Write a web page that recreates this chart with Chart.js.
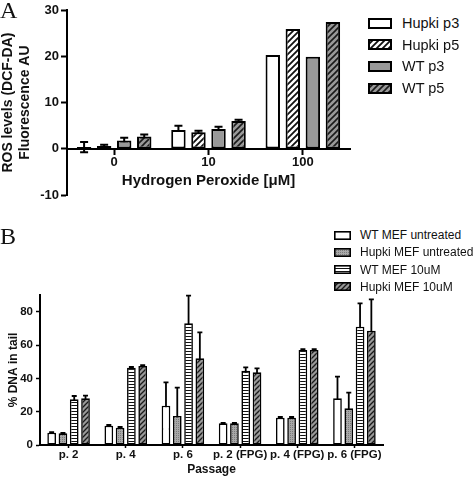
<!DOCTYPE html>
<html><head><meta charset="utf-8">
<script src="https://cdn.jsdelivr.net/npm/chart.js@4.4.1/dist/chart.umd.min.js"></script>
<style>
html,body{margin:0;padding:0;background:#fff;width:474px;height:481px;overflow:hidden;}
#wrap{position:relative;width:474px;height:481px;overflow:hidden;}
.panel{position:absolute;font-family:"Liberation Serif","Times New Roman",serif;font-size:24px;line-height:1;color:#111;}
#cA{position:absolute;left:0;top:0;}
#cB{position:absolute;left:0;top:285px;}
.legend{position:absolute;left:0;top:0;font-family:"Liberation Sans",Arial,sans-serif;color:#111;}
.legend .row{position:absolute;display:flex;align-items:center;white-space:nowrap;height:16px;}
.legend canvas{display:block;}
</style></head>
<body><div id="wrap">
<canvas id="cA" width="352" height="205"></canvas>
<canvas id="cB" width="385" height="196"></canvas>
<div class="panel" style="left:0;top:-2px">A</div>
<div class="panel" style="left:0;top:224px">B</div>
<div id="legA" class="legend"></div>
<div id="legB" class="legend"></div>
</div>
<script>
// ---------- Panel A data ----------
const doseLabels = ['0', '10', '100'];
const seriesNamesA = ['Hupki p3', 'Hupki p5', 'WT p3', 'WT p5'];
const hupkiP3 = [0.4, 4.1, 20.3];
const hupkiP3Err = [1.1, 0.9, 0];
const hupkiP5 = [0.6, 3.6, 25.9];
const hupkiP5Err = [0.3, 0.3, 0];
const wtP3 = [1.8, 4.3, 19.9];
const wtP3Err = [0.6, 0.5, 0];
const wtP5 = [2.7, 6.0, 27.4];
const wtP5Err = [0.4, 0.3, 0];
const yTicksA = [-10, 0, 10, 20, 30];

// ---------- Panel B data ----------
const passageLabels = ['p. 2', 'p. 4', 'p. 6', 'p. 2 (FPG)', 'p. 4 (FPG)', 'p. 6 (FPG)'];
const seriesNamesB = ['WT MEF untreated', 'Hupki MEF untreated', 'WT MEF 10uM', 'Hupki MEF 10uM'];
const wtUntreated = [7.4, 11.6, 23.6, 13.0, 16.4, 28.0];
const wtUntreatedErr = [0.3, 0.4, 14.0, 0.3, 0.4, 13.0];
const hupkiUntreated = [7.0, 10.4, 17.4, 13.0, 16.4, 22.0];
const hupkiUntreatedErr = [0.3, 0.4, 17.0, 0.3, 0.4, 9.4];
const wt10uM = [27.4, 46.4, 73.0, 44.6, 57.0, 71.0];
const wt10uMErr = [2.0, 0.5, 16.6, 2.0, 0.5, 14.0];
const hupki10uM = [28.0, 47.4, 52.0, 43.6, 57.0, 68.6];
const hupki10uMErr = [1.6, 0.5, 15.6, 2.4, 0.5, 18.8];
const yTicksB = [0, 20, 40, 60, 80];

// ---------- fills ----------
function tile(size, bg, draw) {
  const c = document.createElement('canvas'); c.width = c.height = size;
  const x = c.getContext('2d'); x.fillStyle = bg; x.fillRect(0, 0, size, size);
  if (draw) draw(x, size);
  return c;
}
function diagTile(bg, fg, s, lw) {
  return tile(s, bg, (x) => {
    x.strokeStyle = fg; x.lineWidth = lw; x.beginPath();
    x.moveTo(-1, s + 1); x.lineTo(s + 1, -1);
    x.moveTo(-s / 2 - 1, s / 2 + 1); x.lineTo(s / 2 + 1, -s / 2 - 1);
    x.moveTo(s / 2 - 1, s * 1.5 + 1); x.lineTo(s * 1.5 + 1, s / 2 - 1);
    x.stroke();
  });
}
const tiles = {
  white: tile(4, '#ffffff'),
  gray: tile(4, '#999999'),
  hatchWhite: diagTile('#ffffff', '#111', 6, 1.8),
  hatchGray: diagTile('#999999', '#1a1a1a', 6, 1.6),
  hatchGrayB: diagTile('#999999', '#1a1a1a', 5, 1.3),
  stipple: tile(2, '#a8a8a8', (x) => { x.fillStyle = '#7a7a7a'; x.fillRect(0, 0, 1, 1); }),
  hstripe: tile(3, '#ffffff', (x) => { x.fillStyle = '#111'; x.fillRect(0, 0, 3, 1); })
};
function pat(ctx, name) { return ctx.createPattern(tiles[name], 'repeat'); }

// ---------- error bars (drawn under bars, so only the part outside a bar shows) ----------
const errorBars = {
  id: 'errorBars',
  beforeDatasetsDraw(chart, args, opts) {
    const ctx = chart.ctx, y = chart.scales.y;
    chart.data.datasets.forEach((ds, di) => {
      const meta = chart.getDatasetMeta(di);
      meta.data.forEach((bar, i) => {
        const e = ds.errors ? ds.errors[i] : 0;
        if (!e) return;
        const v = ds.data[i];
        const t = y.getPixelForValue(v + e), b = y.getPixelForValue(v - e);
        const h = opts.cap / 2;
        ctx.save();
        ctx.strokeStyle = '#000'; ctx.lineWidth = opts.lineWidth;
        ctx.beginPath();
        ctx.moveTo(bar.x, t); ctx.lineTo(bar.x, b);
        ctx.moveTo(bar.x - h, t); ctx.lineTo(bar.x + h, t);
        ctx.moveTo(bar.x - h, b); ctx.lineTo(bar.x + h, b);
        ctx.stroke();
        ctx.restore();
      });
    });
  }
};

const TXT = '#111';
const SANS = '"Liberation Sans", Arial, sans-serif';

// ---------- Chart A ----------
const ctxA = document.getElementById('cA').getContext('2d');
const valsA = [hupkiP3, hupkiP5, wtP3, wtP5];
const errsA = [hupkiP3Err, hupkiP5Err, wtP3Err, wtP5Err];
const fillNamesA = ['white', 'hatchWhite', 'gray', 'hatchGray'];
new Chart(ctxA, {
  type: 'bar',
  data: {
    labels: doseLabels,
    datasets: seriesNamesA.map((name, k) => ({
      label: name, data: valsA[k], errors: errsA[k],
      backgroundColor: pat(ctxA, fillNamesA[k]), borderColor: '#000', borderWidth: 2,
      borderSkipped: false, categoryPercentage: 0.85, barPercentage: 0.72
    }))
  },
  options: {
    responsive: false, animation: false,
    layout: { padding: { top: 10, bottom: 8, left: 0, right: 2 } },
    plugins: { legend: { display: false }, tooltip: { enabled: false }, errorBars: { lineWidth: 2, cap: 8 } },
    scales: {
      x: {
        position: { y: 0 }, offset: true,
        grid: { offset: false, drawOnChartArea: false, drawTicks: true, tickLength: 5, tickWidth: 2, tickColor: '#000' },
        border: { color: '#000', width: 2 },
        ticks: { color: TXT, font: { family: SANS, size: 13, weight: 'bold' }, padding: 1, maxRotation: 0 },
        title: { display: true, text: 'Hydrogen Peroxide [μM]', color: TXT, font: { family: SANS, size: 15, weight: 'bold' }, padding: { top: 0, bottom: 0 } }
      },
      y: {
        min: -10, max: 30,
        afterBuildTicks: (s) => { s.ticks = yTicksA.map(v => ({ value: v })); },
        afterFit: (s) => { s.width = 67; },
        grid: { drawOnChartArea: false, drawTicks: true, tickLength: 6, tickWidth: 2, tickColor: '#000' },
        border: { color: '#000', width: 2 },
        ticks: { color: TXT, font: { family: SANS, size: 13, weight: 'bold' }, padding: 2 },
        title: { display: true, text: ['ROS levels (DCF-DA)', 'Fluorescence AU'], color: TXT, font: { family: SANS, size: 14, weight: 'bold', lineHeight: '17px' }, padding: { top: 0, bottom: 0 } }
      }
    }
  },
  plugins: [errorBars]
});

// ---------- Chart B ----------
const ctxB = document.getElementById('cB').getContext('2d');
const valsB = [wtUntreated, hupkiUntreated, wt10uM, hupki10uM];
const errsB = [wtUntreatedErr, hupkiUntreatedErr, wt10uMErr, hupki10uMErr];
const fillNamesB = ['white', 'stipple', 'hstripe', 'hatchGrayB'];
new Chart(ctxB, {
  type: 'bar',
  data: {
    labels: passageLabels,
    datasets: seriesNamesB.map((name, k) => ({
      label: name, data: valsB[k], errors: errsB[k],
      backgroundColor: pat(ctxB, fillNamesB[k]), borderColor: '#000', borderWidth: 1.6,
      borderSkipped: false, categoryPercentage: 0.79, barPercentage: 0.77
    }))
  },
  options: {
    responsive: false, animation: false,
    layout: { padding: { top: 10, bottom: 0, left: 0, right: 2 } },
    plugins: { legend: { display: false }, tooltip: { enabled: false }, errorBars: { lineWidth: 1.8, cap: 5 } },
    scales: {
      x: {
        offset: true,
        afterFit: (s) => { s.height = 36; },
        grid: { offset: false, drawOnChartArea: false, drawTicks: true, tickLength: 3, tickWidth: 1.5, tickColor: '#000' },
        border: { color: '#000', width: 2 },
        ticks: { color: TXT, font: { family: SANS, size: 11.5, weight: 'bold' }, padding: 0, autoSkip: false, maxRotation: 0, minRotation: 0 },
        title: { display: true, text: 'Passage', color: TXT, font: { family: SANS, size: 12, weight: 'bold' }, padding: { top: 0, bottom: 4 } }
      },
      y: {
        min: 0, max: 90,
        afterBuildTicks: (s) => { s.ticks = yTicksB.map(v => ({ value: v })); },
        afterFit: (s) => { s.width = 40; },
        grid: { drawOnChartArea: false, drawTicks: true, tickLength: 4, tickWidth: 1.5, tickColor: '#000' },
        border: { color: '#000', width: 2 },
        ticks: { color: TXT, font: { family: SANS, size: 11.5, weight: 'bold' }, padding: 3 },
        title: { display: true, text: '% DNA in tail', color: TXT, font: { family: SANS, size: 12, weight: 'bold' }, padding: { top: 6, bottom: 0 } }
      }
    }
  },
  plugins: [errorBars]
});

// ---------- HTML legends ----------
function buildLegend(el, names, fills, o) {
  names.forEach((name, k) => {
    const row = document.createElement('div');
    row.className = 'row';
    row.style.left = o.x + 'px';
    row.style.top = (o.y0 + k * o.dy - 8) + 'px';
    const c = document.createElement('canvas');
    c.width = o.bw; c.height = o.bh;
    const x = c.getContext('2d');
    x.fillStyle = pat(x, fills[k]); x.fillRect(0, 0, o.bw, o.bh);
    x.strokeStyle = '#000'; x.lineWidth = o.lw; x.strokeRect(o.lw / 2, o.lw / 2, o.bw - o.lw, o.bh - o.lw);
    c.style.marginRight = o.gap + 'px';
    const s = document.createElement('span');
    s.textContent = name; s.style.fontSize = o.fs + 'px'; s.style.lineHeight = '16px';
    row.appendChild(c); row.appendChild(s);
    el.appendChild(row);
  });
}
buildLegend(document.getElementById('legA'), seriesNamesA, fillNamesA, { x: 368, y0: 23, dy: 21.7, bw: 24, bh: 11, lw: 2, gap: 10, fs: 14.5 });
buildLegend(document.getElementById('legB'), seriesNamesB, fillNamesB, { x: 334, y0: 235, dy: 17.3, bw: 17, bh: 9, lw: 1.6, gap: 9, fs: 12 });
</script>
</body></html>
